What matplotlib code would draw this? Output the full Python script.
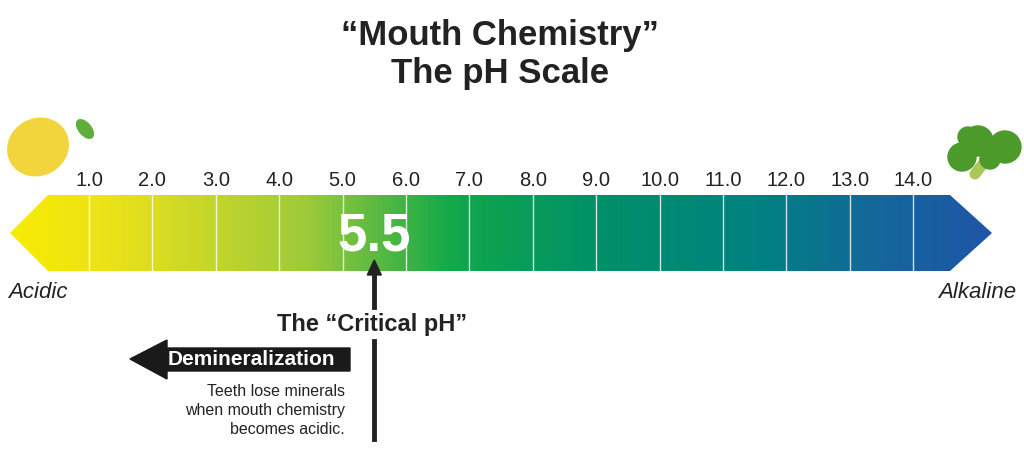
import numpy as np
import matplotlib
matplotlib.use("Agg")
import matplotlib.pyplot as plt
from matplotlib.colors import LinearSegmentedColormap
from matplotlib.patches import Polygon, Ellipse, Circle

plt.rcParams['font.family'] = ['Liberation Sans', 'DejaVu Sans']

ph_ticks = [1.0, 2.0, 3.0, 4.0, 5.0, 6.0, 7.0, 8.0, 9.0, 10.0, 11.0, 12.0, 13.0, 14.0]
tick_labels = ["1.0", "2.0", "3.0", "4.0", "5.0", "6.0", "7.0", "8.0", "9.0", "10.0", "11.0", "12.0", "13.0", "14.0"]
critical_ph = 5.5
title_lines = ["\u201cMouth Chemistry\u201d", "The pH Scale"]

fig = plt.figure(figsize=(10.24, 4.52), dpi=100)
ax = fig.add_axes([0, 0, 1, 1])
ax.set_xlim(0, 1024); ax.set_ylim(452, 0); ax.axis("off")

def px(ph):
    return 89 + (ph - 1.0) * 63.4

cmap = LinearSegmentedColormap.from_list("ph", [
    (0.0, "#f7ec00"), (0.1, "#ece21a"), (0.3, "#9fcb3a"), (0.45, "#12a84a"),
    (0.6, "#009068"), (0.75, "#00837f"), (0.88, "#13689a"), (1.0, "#1f55a8")])
y0, y1 = 196, 272
poly = Polygon([(10, 234), (48, y0), (950, y0), (992, 234), (950, y1), (48, y1)],
               closed=True, facecolor="none", edgecolor="none")
ax.add_patch(poly)
grad = np.linspace(0, 1, 512).reshape(1, -1)
im = ax.imshow(grad, cmap=cmap, extent=[10, 992, y1, y0], aspect="auto", zorder=1)
im.set_clip_path(poly)
ax.set_xlim(0, 1024); ax.set_ylim(452, 0)

for ph, lab in zip(ph_ticks, tick_labels):
    x = px(ph)
    ax.plot([x, x], [y0, y1], color="white", lw=1, alpha=0.8, zorder=2)
    ax.text(x, 181, lab, ha="center", va="center", fontsize=14.5, color="#222")

ax.text(px(critical_ph), 237, "5.5", ha="center", va="center", fontsize=38,
        fontweight="bold", color="white", zorder=3)

ax.text(500, 36, title_lines[0], ha="center", va="center", fontsize=25, fontweight="bold", color="#222")
ax.text(500, 73, title_lines[1], ha="center", va="center", fontsize=25, fontweight="bold", color="#222")

ax.text(8, 293, "Acidic", ha="left", va="center", fontsize=16, style="italic", color="#222")
ax.text(1016, 293, "Alkaline", ha="right", va="center", fontsize=16, style="italic", color="#222")

xc = px(critical_ph)
ax.plot([xc, xc], [440, 342], color="#222", lw=3.5)
ax.plot([xc, xc], [308, 275], color="#222", lw=3.5)
ax.add_patch(Polygon([(xc - 7, 276), (xc + 7, 276), (xc, 261)], closed=True, color="#222"))
ax.text(372, 325, "The \u201cCritical pH\u201d", ha="center", va="center", fontsize=17,
        fontweight="bold", color="#222", zorder=3)

ax.add_patch(Polygon([(130, 360), (167, 341), (167, 349), (350, 349), (350, 372), (167, 372), (167, 380)],
                     closed=True, color="#1a1a1a"))
ax.text(168, 360, "Demineralization", ha="left", va="center", fontsize=15, fontweight="bold", color="white")
for i, line in enumerate(["Teeth lose minerals", "when mouth chemistry", "becomes acidic."]):
    ax.text(345, 392 + i * 19, line, ha="right", va="center", fontsize=11.5, color="#222")

ax.add_patch(Ellipse((38, 148), 62, 56, angle=-30, color="#f2d53c", zorder=2))
ax.add_patch(Ellipse((85, 130), 22, 12, angle=50, color="#5fae3c", zorder=2))
ax.plot([975, 995], [175, 150], color="#a8c95a", lw=8, solid_capstyle="round")
for (cx, cy, r) in [(962, 158, 14), (978, 142, 15), (1005, 148, 16), (968, 138, 10), (990, 160, 10)]:
    ax.add_patch(Circle((cx, cy), r, color="#4c9a2a", zorder=2))

fig.savefig("out.png", dpi=100)
